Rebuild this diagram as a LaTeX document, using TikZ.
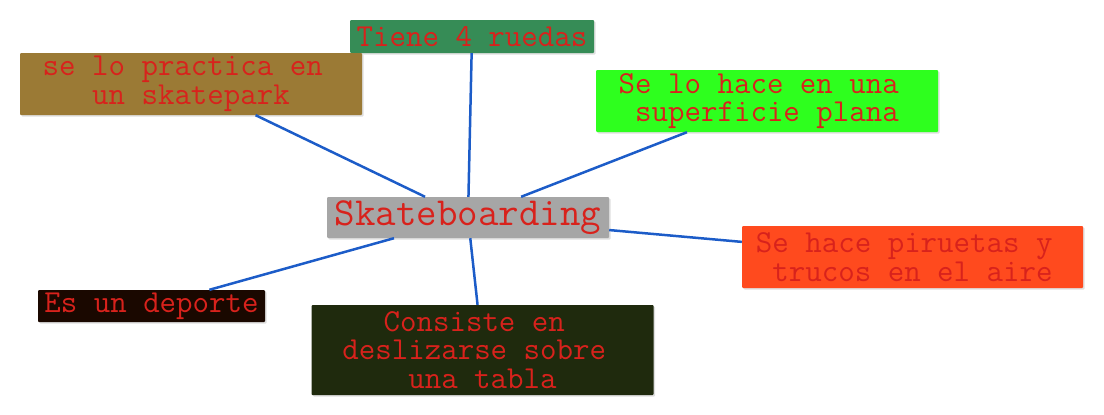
\documentclass[tikz,border=0pt]{standalone}
\usepackage{fontspec}
\usetikzlibrary{shadows}
\definecolor{txtred}{RGB}{216,34,28}
\definecolor{lineblue}{RGB}{28,92,200}
\definecolor{cgreen}{RGB}{54,140,86}
\definecolor{cbrown}{RGB}{155,122,53}
\definecolor{clime}{RGB}{46,255,30}
\definecolor{cgray}{RGB}{166,166,166}
\definecolor{corange}{RGB}{255,74,30}
\definecolor{cdark}{RGB}{26,8,0}
\definecolor{colive}{RGB}{31,42,13}
\begin{document}
\begin{tikzpicture}[x=1pt,y=-1pt,
  box/.style={rectangle, rounded corners=1pt, inner sep=0pt, align=center, text=txtred,
    font=\ttfamily\fontsize{32}{28.5}\selectfont,
    drop shadow={shadow xshift=1.5pt, shadow yshift=-1.5pt, opacity=0.25}},
  link/.style={draw=lineblue, line width=2.5pt}]
\useasboundingbox (0,0) rectangle (1104,415);
\node[box, fill=cgray, minimum width=282pt, minimum height=41pt,
  font=\ttfamily\fontsize{39.8}{36}\selectfont] (skate) at (468,217.5){Skateboarding};
\node[box, fill=cgreen, minimum width=244pt, minimum height=33pt] (ruedas) at (472,36.5){Tiene 4 ruedas};
\node[box, fill=cbrown, minimum width=342pt, minimum height=62pt] (park) at (191,84){se lo practica en\phantom{a}\\un skatepark};
\node[box, fill=clime, minimum width=342pt, minimum height=62pt] (plana) at (767,101){Se lo hace en una\phantom{a}\\superficie plana};
\node[box, fill=corange, minimum width=341pt, minimum height=62pt] (trucos) at (912.5,257){Se hace piruetas y\phantom{a}\\trucos en el aire};
\node[box, fill=cdark, minimum width=227pt, minimum height=32pt] (deporte) at (151.5,306){Es un deporte};
\node[box, fill=colive, minimum width=342pt, minimum height=90pt] (tabla) at (482.5,350){Consiste en\phantom{a}\\deslizarse sobre\phantom{a}\\una tabla};
\draw[link](skate) -- (ruedas);
\draw[link](skate) -- (park);
\draw[link](skate) -- (plana);
\draw[link](skate) -- (trucos);
\draw[link](skate) -- (deporte);
\draw[link](skate) -- (tabla);
\end{tikzpicture}
\end{document}
